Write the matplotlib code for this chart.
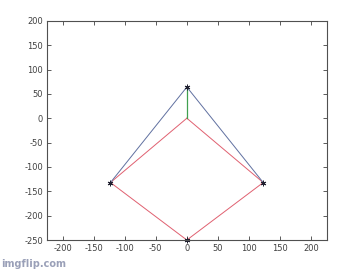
import matplotlib

matplotlib.use("Agg")

import matplotlib.pyplot as plt

plt.rcParams["axes.unicode_minus"] = False

# joint positions of the linkage
origin = (0, 0)
top = (0, 64)
left = (-123, -132)
right = (123, -132)
bottom = (0, -250)

red_path = [origin, left, bottom, right, origin]
blue_path = [left, top, right]
green_path = [origin, top]
star_points = [top, left, right, bottom]

x_ticks = [-200, -150, -100, -50, 0, 50, 100, 150, 200]
y_ticks = [-250, -200, -150, -100, -50, 0, 50, 100, 150, 200]

fig = plt.figure(figsize=(3.6, 2.7), dpi=100)
fig.patch.set_facecolor("#FFFFFF")
ax = fig.add_axes([0.131, 0.111, 0.776, 0.812])

ax.plot([p[0] for p in red_path], [p[1] for p in red_path], color="#E06070", lw=0.7)
ax.plot([p[0] for p in blue_path], [p[1] for p in blue_path], color="#6070A0", lw=0.7)
ax.plot([p[0] for p in green_path], [p[1] for p in green_path], color="#40A050", lw=0.9)
ax.plot([p[0] for p in star_points], [p[1] for p in star_points], ls="none",
        marker=(6, 2, 0), color="#202030", markersize=4, markeredgewidth=0.7,
        clip_on=False)

ax.set_xlim(-225, 225)
ax.set_ylim(-250, 200)
ax.set_xticks(x_ticks)
ax.set_yticks(y_ticks)
ax.tick_params(direction="in", length=3, width=0.6, labelsize=6, colors="#404040",
               top=True, right=True, pad=3)
for spine in ax.spines.values():
    spine.set_linewidth(0.8)
    spine.set_color("#505050")

fig.text(0.003, 0.005, "imgflip.com", fontsize=7, color="#9AA0B8", fontweight="bold",
         ha="left", va="bottom")

fig.savefig("out.png", dpi=100, facecolor=fig.get_facecolor())
plt.close(fig)
